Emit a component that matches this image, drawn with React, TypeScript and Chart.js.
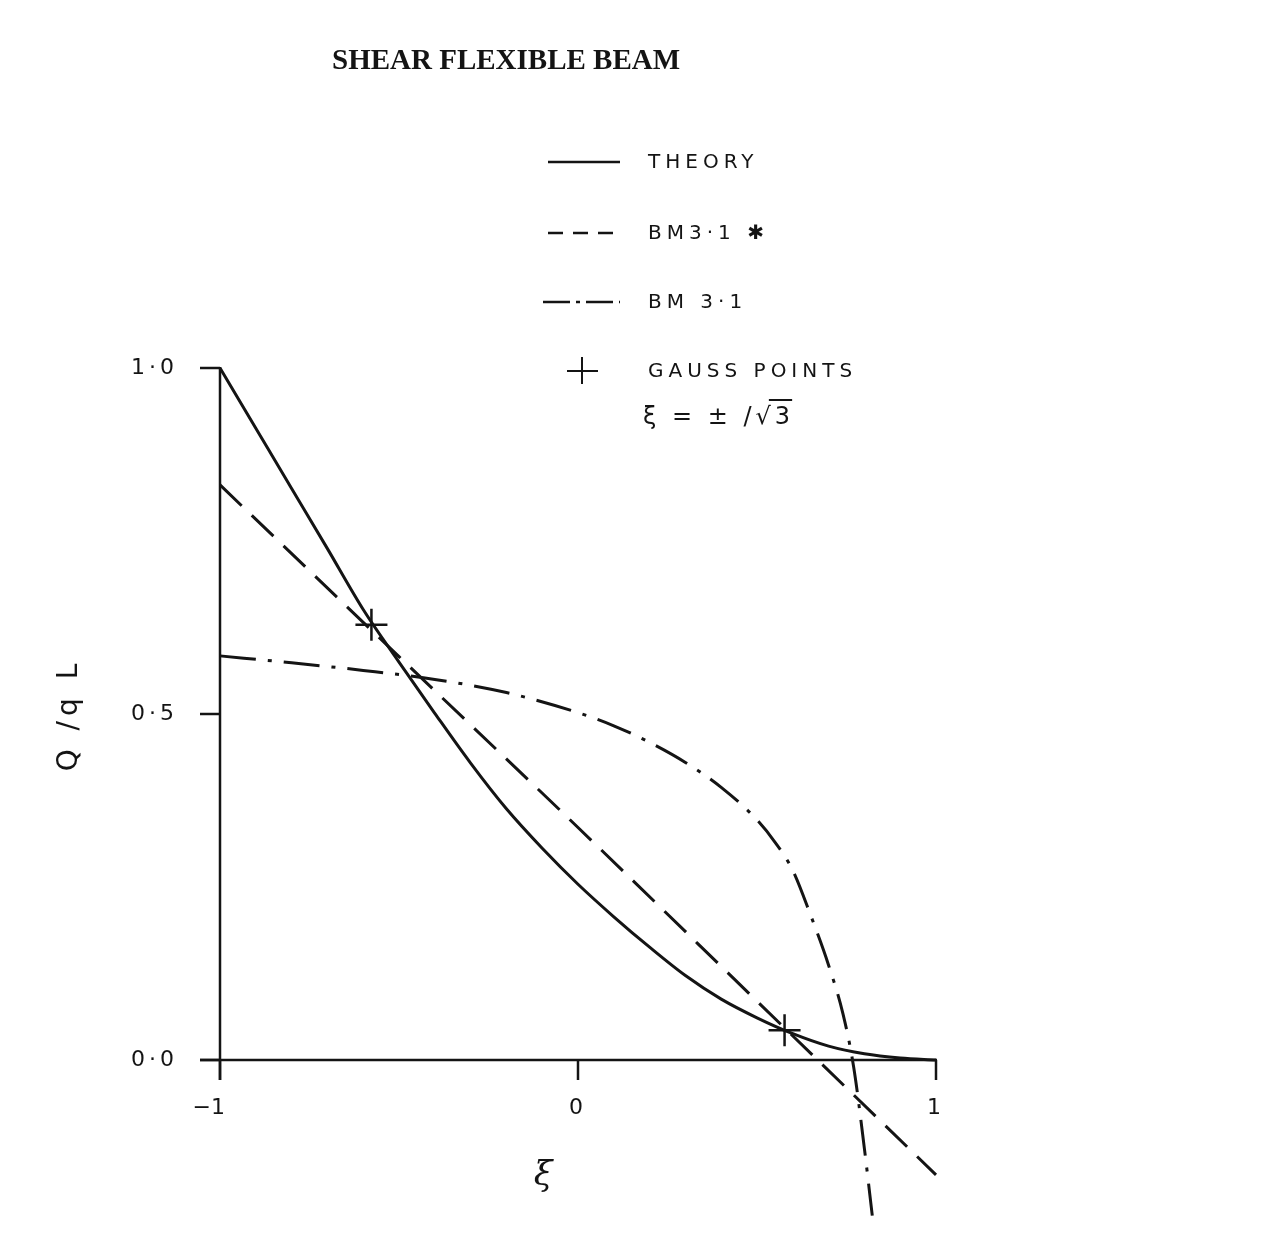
import React, { useEffect, useRef } from "react";
import { Chart, registerables } from "chart.js";

Chart.register(...registerables);

const W = 1269;
const H = 1238;
const INK = "#141414";

const TITLE = "SHEAR FLEXIBLE BEAM";
const LEGEND_LABELS = ["THEORY", "BM3·1 ✱", "BM 3·1", "GAUSS POINTS"];
const GAUSS_NOTE = "ξ = ± /√3";
const X_TITLE = "ξ";
const Y_TITLE = "Q /q L";

const X_TICK_VALUES = [-1, 0, 1];
const X_TICK_LABELS = ["−1", "0", "1"];
const Y_TICK_VALUES = [1, 0.5, 0];
const Y_TICK_LABELS = ["1·0", "0·5", "0·0"];

// Theory (solid)
const THEORY_XI = [-1, -0.9, -0.8, -0.7, -0.6, -0.5, -0.4, -0.3, -0.2, -0.1, 0, 0.1, 0.2, 0.3, 0.4, 0.5, 0.6, 0.7, 0.8, 0.9, 1];
const THEORY_Q = [1.0, 0.913, 0.826, 0.739, 0.651, 0.575, 0.501, 0.429, 0.363, 0.306, 0.254, 0.207, 0.163, 0.122, 0.088, 0.061, 0.038, 0.02, 0.009, 0.003, 0.0];

// BM3.1* (dashed)
const BMSTAR_XI = [-1, -0.5, 0, 0.5, 1];
const BMSTAR_Q = [0.831, 0.583, 0.336, 0.085, -0.166];

// BM 3.1 (dash-dot)
const BM_XI = [-1, -0.8, -0.6, -0.4, -0.2, 0, 0.1, 0.2, 0.3, 0.4, 0.5, 0.55, 0.6, 0.65, 0.7, 0.74, 0.77, 0.8, 0.822];
const BM_Q = [0.584, 0.574, 0.563, 0.55, 0.531, 0.502, 0.483, 0.459, 0.43, 0.394, 0.347, 0.315, 0.274, 0.209, 0.137, 0.067, -0.01, -0.128, -0.225];

// Gauss points
const GAUSS_XI = [-0.577, 0.577];
const GAUSS_Q = [0.629, 0.043];

const toPts = (xs: number[], ys: number[]) => xs.map((x, i) => ({ x, y: ys[i] }));

const TICK = 20;

const decorPlugin = {
  id: "decor",
  beforeDatasetsDraw(chart: any) {
    const { ctx } = chart;
    const xs = chart.scales.x;
    const ys = chart.scales.y;
    const x0 = xs.getPixelForValue(-1);
    const x1 = xs.getPixelForValue(1);
    const yTop = ys.getPixelForValue(1);
    const y0 = ys.getPixelForValue(0);
    ctx.save();
    ctx.strokeStyle = INK;
    ctx.lineWidth = 2.5;
    ctx.lineCap = "butt";
    const seg = (a: number, b: number, c: number, d: number) => {
      ctx.beginPath();
      ctx.moveTo(a, b);
      ctx.lineTo(c, d);
      ctx.stroke();
    };
    seg(x0, yTop - 1, x0, y0 + TICK);
    seg(x0 - TICK, y0, x1 + 1, y0);
    Y_TICK_VALUES.forEach((v) => {
      const p = ys.getPixelForValue(v);
      seg(x0 - TICK, p, x0, p);
    });
    X_TICK_VALUES.forEach((v) => {
      const p = xs.getPixelForValue(v);
      seg(p, y0, p, y0 + TICK);
    });
    ctx.restore();
  },
  afterDraw(chart: any) {
    const { ctx } = chart;
    const xs = chart.scales.x;
    const ys = chart.scales.y;
    const y0 = ys.getPixelForValue(0);
    ctx.save();
    ctx.fillStyle = INK;
    ctx.strokeStyle = INK;

    // Title
    ctx.font = "bold 29px 'Liberation Serif', 'Times New Roman', serif";
    ctx.textBaseline = "middle";
    ctx.textAlign = "left";
    (ctx as any).letterSpacing = "0px";
    ctx.fillText(TITLE, 332, 62);

    // Y tick labels (right-aligned)
    ctx.font = "22px 'DejaVu Sans', sans-serif";
    (ctx as any).letterSpacing = "4px";
    ctx.textAlign = "left";
    Y_TICK_VALUES.forEach((v, i) => {
      const p = ys.getPixelForValue(v);
      const w = ctx.measureText(Y_TICK_LABELS[i]).width - 4;
      ctx.fillText(Y_TICK_LABELS[i], 174 - w, p);
    });

    // X tick labels
    (ctx as any).letterSpacing = "0px";
    ctx.font = "22px 'DejaVu Sans', sans-serif";
    X_TICK_VALUES.forEach((v, i) => {
      const p = xs.getPixelForValue(v);
      if (i === 0) {
        ctx.textAlign = "right";
        ctx.fillText(X_TICK_LABELS[i], p + 5, y0 + 48);
      } else {
        ctx.textAlign = "center";
        ctx.fillText(X_TICK_LABELS[i], p - 2, y0 + 48);
      }
    });

    // X title
    ctx.font = "italic 34px 'DejaVu Serif', serif";
    ctx.textAlign = "center";
    ctx.fillText(X_TITLE, 543, 1176);

    // Y title (rotated)
    ctx.save();
    ctx.translate(70, 717);
    ctx.rotate(-Math.PI / 2);
    ctx.font = "28px 'DejaVu Sans', sans-serif";
    (ctx as any).letterSpacing = "5px";
    ctx.textAlign = "center";
    ctx.fillText(Y_TITLE, 2, 0);
    ctx.restore();

    // Legend
    const rows = [162, 233, 302, 371];
    const dashes: number[][] = [[], [15, 10], [27, 6, 4, 6]];
    ctx.lineWidth = 2.5;
    for (let i = 0; i < 3; i++) {
      ctx.setLineDash(dashes[i]);
      ctx.beginPath();
      ctx.moveTo(i === 2 ? 543 : 548, rows[i]);
      ctx.lineTo(620, rows[i]);
      ctx.stroke();
    }
    ctx.setLineDash([]);
    ctx.lineWidth = 2;
    ctx.beginPath();
    ctx.moveTo(567, rows[3]);
    ctx.lineTo(598, rows[3]);
    ctx.moveTo(582, rows[3] - 14);
    ctx.lineTo(582, rows[3] + 13);
    ctx.stroke();

    ctx.font = "20px 'DejaVu Sans', sans-serif";
    (ctx as any).letterSpacing = "5px";
    ctx.textAlign = "left";
    ctx.textBaseline = "middle";
    LEGEND_LABELS.forEach((t, i) => ctx.fillText(t, 648, rows[i] + 1));

    // Gauss note: ξ = ± /√3
    ctx.font = "24px 'DejaVu Sans', sans-serif";
    (ctx as any).letterSpacing = "4px";
    ctx.fillText(GAUSS_NOTE, 643, 418);
    const full = ctx.measureText(GAUSS_NOTE).width;
    const three = ctx.measureText("3").width;
    ctx.lineWidth = 2;
    ctx.beginPath();
    ctx.moveTo(643 + full - three - 6, 400);
    ctx.lineTo(643 + full - 2, 400);
    ctx.stroke();

    ctx.restore();
  },
};

export default function App() {
  const ref = useRef<HTMLCanvasElement | null>(null);

  useEffect(() => {
    if (!ref.current) return;
    const common = {
      showLine: true,
      pointRadius: 0,
      borderColor: INK,
      borderWidth: 3,
      fill: false,
      clip: false as any,
      cubicInterpolationMode: "monotone" as const,
    };
    const chart = new Chart(ref.current, {
      type: "scatter",
      data: {
        datasets: [
          { ...common, label: "THEORY", data: toPts(THEORY_XI, THEORY_Q) },
          { ...common, label: "BM3·1 ✱", data: toPts(BMSTAR_XI, BMSTAR_Q), borderDash: [30, 14] },
          { ...common, label: "BM 3·1", data: toPts(BM_XI, BM_Q), borderDash: [36, 12, 4, 12] },
          {
            label: "GAUSS POINTS",
            data: toPts(GAUSS_XI, GAUSS_Q),
            showLine: false,
            pointStyle: "cross",
            pointRadius: 16,
            pointBorderWidth: 2.5,
            borderColor: INK,
            backgroundColor: INK,
            clip: false as any,
          },
        ],
      },
      options: {
        responsive: false,
        animation: false,
        devicePixelRatio: 1,
        layout: { autoPadding: false, padding: { left: 220, right: W - 936, top: 368, bottom: 5 } },
        scales: {
          x: { type: "linear", min: -1, max: 1, display: false },
          y: { type: "linear", min: -0.25, max: 1, display: false },
        },
        plugins: {
          legend: { display: false },
          tooltip: { enabled: false },
        },
        events: [],
      },
      plugins: [decorPlugin],
    });
    return () => chart.destroy();
  }, []);

  return (
    <div style={{ position: "absolute", left: 0, top: 0, width: W, height: H, background: "#fff" }}>
      <canvas ref={ref} width={W} height={H} style={{ display: "block", width: W, height: H }} />
    </div>
  );
}
